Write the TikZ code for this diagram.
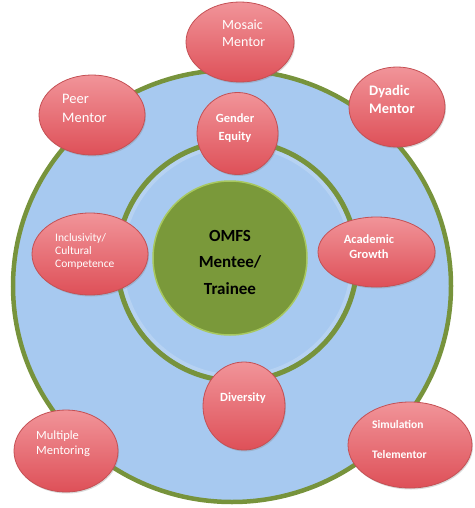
\documentclass[tikz,border=0pt]{standalone}
\usepackage{fontspec}
\setmainfont{Carlito}
\usetikzlibrary{shapes.geometric,shadows}
\definecolor{ringblue}{RGB}{167,201,240}
\definecolor{ringgreen}{RGB}{119,147,60}
\definecolor{coregreen}{RGB}{122,153,58}
\definecolor{coreedge}{RGB}{168,200,95}
\definecolor{bubbletop}{RGB}{241,148,153}
\definecolor{bubblebot}{RGB}{222,80,88}
\definecolor{bubbleedge}{RGB}{196,80,84}
\tikzset{
	bubble/.style={ellipse, inner sep=0pt, draw=bubbleedge, line width=0.8pt,
		top color=bubbletop, bottom color=bubblebot,
		drop shadow={opacity=0.3, shadow xshift=1pt, shadow yshift=-1.5pt}},
	bubbletext/.style={text=white, inner sep=0pt, align=left},
}
\begin{document}
\begin{tikzpicture}[x=1pt,y=-1pt]
				\useasboundingbox (0,0) rectangle (474,508);
				\coordinate (O) at (232,286);
				\coordinate (I) at (237,261);
				\coordinate (C) at (230,258);
				\draw [ringgreen, line width=4.5pt, fill=ringblue] (O) ellipse [x radius=219, y radius=216];
				\draw [white, opacity=0.18, line width=4pt] (I) circle [radius=115.5];
				\draw [ringgreen, line width=5pt] (I) circle [radius=120];
				\node [circle, minimum size=154pt, inner sep=0pt, fill=coregreen, draw=coreedge, line width=1.5pt] (core) at (C) {};
				\node [anchor=base, align=center, inner sep=0pt, font=\bfseries\fontsize{17}{26.5}\selectfont] (coretext) at (230,294) {OMFS\\Mentee/\\Trainee};
				% outer ring
				\node [bubble, minimum width=108pt, minimum height=80pt] (mosaic) at (240,42) {};
				\node [bubble, minimum width=106pt, minimum height=80pt] (peer) at (92,115) {};
				\node [bubble, minimum width=96pt, minimum height=80pt] (dyadic) at (397,107) {};
				\node [bubble, minimum width=104pt, minimum height=82pt] (multiple) at (66,451) {};
				\node [bubble, minimum width=124pt, minimum height=86pt] (simulation) at (410,445) {};
				% inner ring
				\node [bubble, minimum width=81pt, minimum height=82pt] (gender) at (237.5,133.5) {};
				\node [bubble, minimum width=116pt, minimum height=82pt] (inclusivity) at (90,254) {};
				\node [bubble, minimum width=117pt, minimum height=70pt] (academic) at (376.5,252) {};
				\node [bubble, minimum width=82pt, minimum height=88pt] (diversity) at (244,406) {};
				\node [bubbletext, anchor=base west, font=\fontsize{14}{17}\selectfont] (mosaictext) at (222,47) {Mosaic\\Mentor};
				\node [bubbletext, anchor=base west, font=\fontsize{14.5}{19}\selectfont] (peertext) at (62,122) {Peer\\Mentor};
				\node [bubbletext, anchor=base west, font=\bfseries\fontsize{14.5}{17.5}\selectfont] (dyadictext) at (369,113.5) {Dyadic\\Mentor};
				\node [bubbletext, anchor=base west, font=\fontsize{12.5}{15}\selectfont] (multipletext) at (36,454) {Multiple\\Mentoring};
				\node [bubbletext, anchor=base west, font=\bfseries\fontsize{11.5}{30}\selectfont] (simulationtext) at (372,458) {Simulation\\Telementor};
				\node [bubbletext, anchor=base, align=center, font=\bfseries\fontsize{12.5}{18}\selectfont] (gendertext) at (235,140) {Gender\\Equity};
				\node [bubbletext, anchor=base west, font=\fontsize{11.5}{13}\selectfont] (inclusivitytext) at (55,267) {Inclusivity/\\Cultural\\Competence};
				\node [bubbletext, anchor=base, align=center, font=\bfseries\fontsize{12.5}{15}\selectfont] (academictext) at (369,258) {Academic\\Growth};
				\node [bubbletext, anchor=base, font=\bfseries\fontsize{12.5}{15}\selectfont] (diversitytext) at (243,401) {Diversity};
			\end{tikzpicture}
\end{document}
